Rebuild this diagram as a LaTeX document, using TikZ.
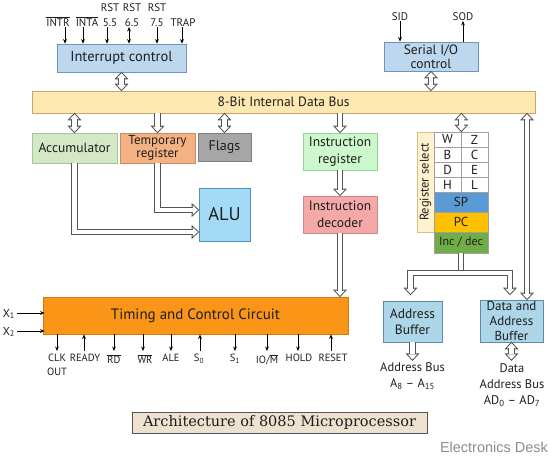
\documentclass[tikz,border=0pt]{standalone}
\usepackage{fontspec}
\setmainfont{PT Sans}
\newfontfamily\titlefont{DejaVu Serif}
\newfontfamily\wmfont{Liberation Sans}
\usetikzlibrary{arrows.meta,calc}
\definecolor{hgray}{HTML}{555555}
\definecolor{icfill}{HTML}{BDD7EE}
\definecolor{icdraw}{HTML}{7094BA}
\definecolor{busfill}{HTML}{FDE8B0}
\definecolor{busdraw}{HTML}{C9A66C}
\definecolor{accfill}{HTML}{D4E8C6}
\definecolor{accdraw}{HTML}{A6C598}
\definecolor{tmpfill}{HTML}{F4B183}
\definecolor{tmpdraw}{HTML}{C98C5E}
\definecolor{flgfill}{HTML}{A6A6A6}
\definecolor{flgdraw}{HTML}{808080}
\definecolor{alufill}{HTML}{A3DBF7}
\definecolor{aludraw}{HTML}{4F93BD}
\definecolor{irfill}{HTML}{CDF7CD}
\definecolor{irdraw}{HTML}{93D393}
\definecolor{idfill}{HTML}{F5A8A8}
\definecolor{iddraw}{HTML}{D08686}
\definecolor{tcfill}{HTML}{FA9517}
\definecolor{tcdraw}{HTML}{D07A12}
\definecolor{rsfill}{HTML}{FFF2CC}
\definecolor{rsdraw}{HTML}{D6BF8A}
\definecolor{cellgray}{HTML}{A0A0A0}
\definecolor{spfill}{HTML}{5B9BD5}
\definecolor{pcfill}{HTML}{FFC000}
\definecolor{incfill}{HTML}{70AD47}
\definecolor{bffill}{HTML}{ADD6E8}
\definecolor{bfdraw}{HTML}{5E8CAA}
\definecolor{ttfill}{HTML}{ECE2CF}
\definecolor{wmgray}{HTML}{8C8C8C}
\definecolor{txt}{HTML}{1E1E1E}
\newcommand{\ovl}[1]{$\overline{\mbox{#1}}$}
\begin{document}
\begin{tikzpicture}[x=1pt,y=-1pt,
  box/.style={draw, rectangle, inner sep=0pt, align=center, text=txt, line width=0.7pt},
  hol/.style={draw=hgray, line width=0.85pt, double=white, double distance=4.4pt, line join=miter},
  sig/.style={-{Stealth[length=4.5pt,width=3.8pt]}, line width=0.7pt},
  sigr/.style={{Stealth[length=4.5pt,width=3.8pt]}-, line width=0.7pt},
  sigb/.style={{Stealth[length=4.5pt,width=3.8pt]}-{Stealth[length=4.5pt,width=3.8pt]}, line width=0.7pt},
  lbl/.style={inner sep=0pt, font=\fontsize{10.5}{13.5}\selectfont, align=center, text=txt},
  tlbl/.style={lbl, font=\fontsize{11}{15}\selectfont},
  cell/.style={box, fill=white, draw=cellgray, minimum width=27pt, minimum height=15pt, font=\fontsize{13}{14}\selectfont},
  pics/hd/.style={code={\draw[hgray, fill=white, line width=0.85pt] (0,0) -- (-6,-6.5) -- (6,-6.5) -- cycle;}},
  pics/hu/.style={code={\draw[hgray, fill=white, line width=0.85pt] (0,0) -- (-6,6.5) -- (6,6.5) -- cycle;}},
  pics/hr/.style={code={\draw[hgray, fill=white, line width=0.85pt] (0,0) -- (-6.5,-6) -- (-6.5,6) -- cycle;}},
]
\useasboundingbox[fill=white] (0,0) rectangle (550,458);

% ---------- boxes ----------
\node[box, fill=icfill, draw=icdraw, minimum width=129pt, minimum height=28pt, font=\fontsize{14.5}{16}\selectfont] (ic) at (121.5,58) {Interrupt control};
\node[box, fill=icfill, draw=icdraw, minimum width=94pt, minimum height=29pt, font=\fontsize{13.5}{14}\selectfont] (sio) at (431,56.5) {Serial I/O\\control};
\node[box, fill=busfill, draw=busdraw, minimum width=503pt, minimum height=22pt, font=\fontsize{13.5}{15}\selectfont] (bus) at (283.5,102) {8-Bit Internal Data Bus};
\node[box, fill=accfill, draw=accdraw, minimum width=85pt, minimum height=30pt, font=\fontsize{13.5}{14}\selectfont] (acc) at (74.5,148) {Accumulator};
\node[box, fill=tmpfill, draw=tmpdraw, minimum width=75pt, minimum height=30pt, font=\fontsize{13}{13.5}\selectfont] (tmp) at (157.5,148) {Temporary\\register};
\node[box, fill=flgfill, draw=flgdraw, minimum width=53pt, minimum height=28pt, font=\fontsize{14}{15}\selectfont] (flg) at (224.5,147) {Flags};
\node[box, fill=alufill, draw=aludraw, minimum width=51pt, minimum height=53pt, font=\fontsize{18.5}{19}\selectfont] (alu) at (224.5,214.5) {ALU};
\node[box, fill=irfill, draw=irdraw, minimum width=74pt, minimum height=37pt, font=\fontsize{13.5}{17}\selectfont] (ir) at (340,151.5) {Instruction\\register};
\node[box, fill=idfill, draw=iddraw, minimum width=74pt, minimum height=37pt, font=\fontsize{13.5}{17}\selectfont] (id) at (340,214.5) {Instruction\\decoder};
\node[box, fill=tcfill, draw=tcdraw, minimum width=305pt, minimum height=37pt, font=\fontsize{15}{16}\selectfont] (tcc) at (195.5,315.5) {Timing and Control Circuit};
\node[box, fill=rsfill, draw=rsdraw, minimum width=100pt, minimum height=17pt, rotate=90, font=\fontsize{12.5}{13}\selectfont] (rs) at (425.5,182) {Register select};
\node[cell] (cw) at (447.5,139.5) {W};
\node[cell] (cz) at (474.5,139.5) {Z};
\node[cell] (cb) at (447.5,154.5) {B};
\node[cell] (cc) at (474.5,154.5) {C};
\node[cell] (cd) at (447.5,169.5) {D};
\node[cell] (ce) at (474.5,169.5) {E};
\node[cell] (ch) at (447.5,184.5) {H};
\node[cell] (cl) at (474.5,184.5) {L};
\node[box, fill=spfill, draw=cellgray, minimum width=54pt, minimum height=20pt, font=\fontsize{13}{14}\selectfont] (sp) at (461,202) {SP};
\node[box, fill=pcfill, draw=cellgray, minimum width=54pt, minimum height=20pt, font=\fontsize{13}{14}\selectfont] (pc) at (461,222) {PC};
\node[box, fill=incfill, draw=cellgray, minimum width=54pt, minimum height=21pt, font=\fontsize{12}{13}\selectfont] (inc) at (461,242.5) {Inc / dec};
\node[box, fill=bffill, draw=bfdraw, minimum width=59pt, minimum height=41pt, font=\fontsize{13.5}{16}\selectfont] (ab) at (412.5,321.5) {Address\\Buffer};
\node[box, fill=bffill, draw=bfdraw, minimum width=63pt, minimum height=42pt, font=\fontsize{13}{15}\selectfont] (dab) at (511.5,321) {Data and\\Address\\Buffer};
\node[box, fill=ttfill, draw=hgray, minimum width=295pt, minimum height=21pt, font=\titlefont\fontsize{14.5}{16}\selectfont] (ttl) at (279.5,422.5) {Architecture of 8085 Microprocessor};
\node[inner sep=0pt, text=wmgray, font=\wmfont\fontsize{14.5}{16}\selectfont] (wm) at (494,447) {Electronics Desk};

% ---------- hollow bus arrows ----------
% interrupt control <-> bus
\pic at (ic.south) {hu}; \pic at (ic.south |- bus.north) {hd};
\draw[hol] ($(ic.south)+(0,5.9)$) -- ($(ic.south |- bus.north)+(0,-5.9)$);
% serial <-> bus
\pic at (sio.south) {hu}; \pic at (sio.south |- bus.north) {hd};
\draw[hol] ($(sio.south)+(0,5.9)$) -- ($(sio.south |- bus.north)+(0,-5.9)$);
% bus <-> accumulator
\pic at (acc.north |- bus.south) {hu}; \pic at (acc.north) {hd};
\draw[hol] ($(acc.north |- bus.south)+(0,5.9)$) -- ($(acc.north)+(0,-5.9)$);
% bus -> temporary register
\pic at (tmp.north) {hd};
\draw[hol] (tmp.north |- bus.south) -- ($(tmp.north)+(0,-5.9)$);
% bus <-> flags
\pic at (flg.north |- bus.south) {hu}; \pic at (flg.north) {hd};
\draw[hol] ($(flg.north |- bus.south)+(0,5.9)$) -- ($(flg.north)+(0,-5.9)$);
% bus -> instruction register
\pic at (ir.north) {hd};
\draw[hol] (ir.north |- bus.south) -- ($(ir.north)+(0,-5.9)$);
% instruction register -> decoder
\pic at (id.north) {hd};
\draw[hol] (ir.south) -- ($(id.north)+(0,-5.9)$);
% decoder -> timing
\pic at (id.south |- tcc.north) {hd};
\draw[hol] (id.south) -- ($(id.south |- tcc.north)+(0,-5.9)$);
% bus <-> register array
\pic at (cw.north east |- bus.south) {hu}; \pic at (cw.north east) {hd};
\draw[hol] ($(cw.north east |- bus.south)+(0,5.9)$) -- ($(cw.north east)+(0,-5.9)$);
% bus <-> data/address buffer
\coordinate (dbx) at ($(dab.north)+(15.5,0)$);
\pic at (dbx |- bus.south) {hu}; \pic at (dbx) {hd};
\draw[hol] ($(dbx |- bus.south)+(0,5.9)$) -- ($(dbx)+(0,-5.9)$);
% temporary register -> ALU
\coordinate (alut) at ($(alu.west)+(0,-4.5)$);
\pic at (alut) {hr};
\draw[hol] (tmp.south) |- ($(alut)+(-5.9,0)$);
% accumulator -> ALU
\coordinate (alua) at ($(alu.west)+(0,17.5)$);
\pic at (alua) {hr};
\draw[hol] (acc.south) |- ($(alua)+(-5.9,0)$);
% inc/dec -> buffers
\coordinate (jn) at ($(inc.south)+(0,19.5)$);
\coordinate (abt) at ($(ab.north)+(-2,-6)$);
\coordinate (dbt) at ($(dab.north)+(-1.5,-5)$);
\pic at (abt) {hd}; \pic at (dbt) {hd};
\draw[hol] (inc.south) -- (jn);
\draw[hol] ($(abt)+(0,-5.9)$) -- (abt |- jn) -- (dbt |- jn) -- ($(dbt)+(0,-5.9)$);
% address buffer -> address bus
\coordinate (abo) at ($(ab.south)+(0,18)$);
\pic at (abo) {hd};
\draw[hol] (ab.south) -- ($(abo)+(0,-5.9)$);
% data/address buffer <-> data address bus
\coordinate (dbo) at ($(dab.south)+(0,18)$);
\pic at (dab.south) {hu}; \pic at (dbo) {hd};
\draw[hol] ($(dab.south)+(0,5.9)$) -- ($(dbo)+(0,-5.9)$);

% ---------- output bus labels ----------
\node[lbl, font=\fontsize{12.5}{16}\selectfont, anchor=north] (abl) at (412.5,362) {Address Bus\\A\textsubscript{8} -- A\textsubscript{15}};
\node[lbl, font=\fontsize{12.5}{16}\selectfont, anchor=north] (dbl) at (512,363) {Data\\Address Bus\\AD\textsubscript{0} -- AD\textsubscript{7}};

% ---------- interrupt inputs ----------
\node[tlbl, anchor=south] (lintr) at (58,27) {\ovl{INTR}};
\node[tlbl, anchor=south] (linta) at (87,27) {\ovl{INTA}};
\node[tlbl, anchor=south] (lr55) at (110,27) {RST\\5.5};
\node[tlbl, anchor=south] (lr65) at (132,27) {RST\\6.5};
\node[tlbl, anchor=south] (lr75) at (157,27) {RST\\7.5};
\node[tlbl, anchor=south] (ltrap) at (183,27) {TRAP};
\draw[sig] ([xshift=7pt]lintr.south) -- ([xshift=7pt]lintr.south |- ic.north);
\draw[sig] ([xshift=-4pt]linta.south) -- ([xshift=-4pt]linta.south |- ic.north);
\draw[sig] ([xshift=-3pt]lr55.south) -- ([xshift=-3pt]lr55.south |- ic.north);
\draw[sigb] ([xshift=-3pt]lr65.south) -- ([xshift=-3pt]lr65.south |- ic.north);
\draw[sig] (lr75.south) -- (lr75.south |- ic.north);
\draw[sig] ([xshift=-1pt]ltrap.south) -- ([xshift=-1pt]ltrap.south |- ic.north);

% ---------- serial ----------
\node[tlbl, anchor=south] (lsid) at (400,21) {SID};
\node[tlbl, anchor=south] (lsod) at (463,21) {SOD};
\draw[sig] (lsid.south) -- (lsid.south |- sio.north);
\draw[sig] (lsod.south |- sio.north) -- (lsod.south);

% ---------- clock inputs ----------
\node[lbl, font=\fontsize{11.5}{12}\selectfont, anchor=east] (lx1) at (15,314) {X\textsubscript{1}};
\node[lbl, font=\fontsize{11.5}{12}\selectfont, anchor=east] (lx2) at (15,332) {X\textsubscript{2}};
\draw[sig] ([xshift=2pt,yshift=1pt]lx1.east) -- ([xshift=2pt,yshift=1pt]lx1.east -| tcc.west);
\draw[sig] ([xshift=2pt,yshift=1pt]lx2.east) -- ([xshift=2pt,yshift=1pt]lx2.east -| tcc.west);

% ---------- timing signals ----------
\foreach \ax/\lx/\txt/\dir [count=\i] in {57/57/{CLK\\OUT}/sig, 84/85/READY/sigr, 114/114/{\ovl{RD}}/sig, 143/145/{\ovl{WR}}/sig, 171/171/ALE/sig, 200/199/{S\textsubscript{0}}/sigr, 235/235/{S\textsubscript{1}}/sig, 267/267/{IO/\ovl{M}}/sig, 298/299/HOLD/sig, 331/333/RESET/sigr}{
  \node[lbl, anchor=north] (bs\i) at (\lx,354) {\txt};
  \coordinate (be\i) at (\ax,351);
  \draw[\dir] (be\i |- tcc.south) -- (be\i);
}
\end{tikzpicture}
\end{document}
